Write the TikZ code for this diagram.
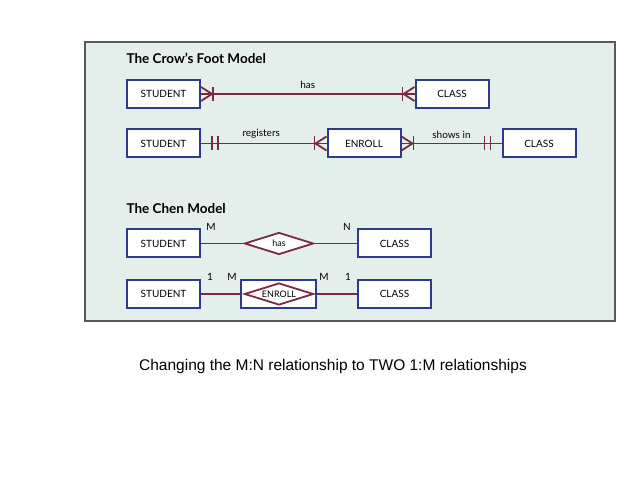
\documentclass[tikz,border=0pt]{standalone}
\usepackage{fontspec}
\setmainfont{Liberation Sans}
\newfontfamily\pan{Lato}
\usetikzlibrary{shapes.geometric}
\definecolor{navy}{HTML}{2E3B8C}
\definecolor{wine}{HTML}{7A2A3E}
\definecolor{panel}{HTML}{E4EEEA}
\begin{document}
\begin{tikzpicture}[x=1pt,y=-1pt,
  ent/.style={draw=navy,line width=2pt,fill=white,minimum width=73pt,minimum height=28pt,inner sep=0pt,font=\pan\fontsize{10}{11}\selectfont},
  rel/.style={draw=wine,line width=1.8pt},
  lab/.style={font=\pan\fontsize{10}{11}\selectfont},
  ttl/.style={font=\pan\bfseries\fontsize{13.5}{15}\selectfont,anchor=west},
  dia/.style={diamond,draw=wine,line width=1.8pt,fill=white,aspect=3.2,minimum width=69pt,minimum height=22pt,inner sep=0pt,font=\pan\fontsize{9}{10}\selectfont}]
\useasboundingbox (0,0) rectangle (638,478);
\fill[white] (0,0) rectangle (638,478);
\draw[fill=panel,draw=black!65,line width=1.2pt] (85,42) rectangle (615,321);
\node[ttl] at (123,58) {The Crow’s Foot Model};
% row 1
\node[ent] (s1) at (163.5,94) {STUDENT};
\node[ent] (c1) at (452,94) {CLASS};
\draw[rel] (s1) -- node[lab,above=1pt] {has} (c1);
\draw[rel] (s1.east) ++(0,-7) -- ++(11,7) -- ++(-11,7);
\draw[rel] (s1.east) ++(12,-7) -- ++(0,14);
\draw[rel] (c1.west) ++(0,-7) -- ++(-11,7) -- ++(11,7);
\draw[rel] (c1.west) ++(-12,-7) -- ++(0,14);
% row 2
\node[ent] (s2) at (163.5,143.5) {STUDENT};
\node[ent] (e2) at (364,143.5) {ENROLL};
\node[ent] (c2) at (539,143.5) {CLASS};
\draw[rel] (s2) -- node[lab,above=1pt,pos=0.48] {registers} (e2);
\draw[rel] (e2) -- node[lab,above=1pt] {shows in} (c2);
\draw[rel] (s2.east) ++(11,-7) -- ++(0,14);
\draw[rel] (s2.east) ++(17,-7) -- ++(0,14);
\draw[rel] (e2.west) ++(0,-7) -- ++(-11,7) -- ++(11,7);
\draw[rel] (e2.west) ++(-12,-7) -- ++(0,14);
\draw[rel] (e2.east) ++(0,-7) -- ++(11,7) -- ++(-11,7);
\draw[rel] (e2.east) ++(12,-7) -- ++(0,14);
\draw[rel] (c2.west) ++(-11,-7) -- ++(0,14);
\draw[rel] (c2.west) ++(-17,-7) -- ++(0,14);
% Chen
\node[ttl] at (123,209) {The Chen Model};
\node[ent] (s3) at (163.5,243.5) {STUDENT};
\node[dia] (h3) at (279,243.5) {has};
\node[ent] (c3) at (394.5,243.5) {CLASS};
\draw[rel] (s3) -- (h3);
\draw[rel] (h3) -- (c3);
\node[lab] (m3) at (211,227) {M};
\node[lab] (n3) at (347,227) {N};
\node[ent] (s4) at (163.5,294) {STUDENT};
\node[ent,minimum width=75pt] (e4) at (278.5,294) {};
\node[dia] (d4) at (279,294) {ENROLL};
\node[ent] (c4) at (394.5,294) {CLASS};
\draw[rel] (s4) -- (e4);
\draw[rel] (e4) -- (c4);
\node[lab] (o1) at (210,277) {1};
\node[lab] (m1) at (232,277) {M};
\node[lab] (m2) at (324,277) {M};
\node[lab] (o2) at (348,277) {1};
\node[font=\fontsize{15.5}{18}\selectfont] (cap) at (333,366) {Changing the M:N relationship to TWO 1:M relationships};
\end{tikzpicture}
\end{document}
